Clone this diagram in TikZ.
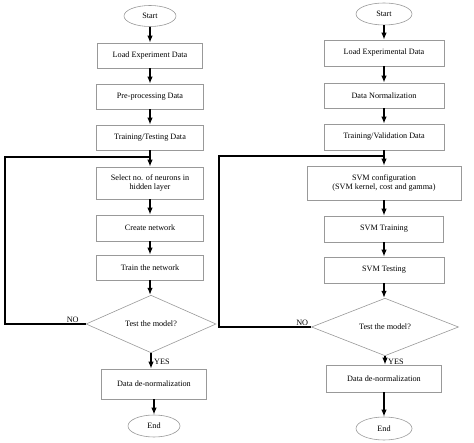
\documentclass[tikz,border=0pt]{standalone}
\usepackage{fontspec}
\setmainfont{Liberation Serif}
\usepackage{tikz}
\usetikzlibrary{arrows.meta, positioning, calc, shapes.geometric}

\begin{document}
\begin{tikzpicture}[
        x=1pt, y=-1pt,
        box/.style={draw=gray!80, line width=0.6pt, minimum width=107pt, minimum height=25pt, align=center, font=\fontsize{8.2}{9.6}\selectfont, inner sep=1pt},
        term/.style={draw=gray!80, line width=0.6pt, ellipse, minimum width=52pt, minimum height=21pt, inner sep=0pt, font=\fontsize{8.2}{9.6}\selectfont},
        decide/.style={draw=gray!80, line width=0.6pt, diamond, minimum width=132pt, minimum height=54pt, inner sep=0pt, font=\fontsize{8.2}{9.6}\selectfont},
        flow/.style={-{Latex[length=7pt,width=5.5pt]}, line width=1.6pt},
        back/.style={line width=1.8pt},
        lbl/.style={font=\fontsize{8.2}{9.6}\selectfont, inner sep=1pt}
    ]
        \useasboundingbox (0,0) rectangle (474,443);
        \node[term] (startA) at (150,16) {Start};
        \node[box, minimum width=105pt] (loadA) at (150,55.5) {Load Experiment Data};
        \node[box] (preA) at (150,96.5) {Pre-processing Data};
        \node[box] (ttA) at (150,137.5) {Training/Testing Data};
        \node[box, minimum height=32pt] (selA) at (150,183) {Select no. of neurons in\\ hidden layer};
        \node[box, minimum height=26pt] (netA) at (150,228) {Create network};
        \node[box] (trainA) at (150,267.5) {Train the network};
        \node[decide, minimum width=130pt] (testA) at (151,324) {Test the model?};
        \node[box, minimum width=105pt, minimum height=30pt] (denA) at (154,384) {Data de-normalization};
        \node[term, minimum height=22pt] (endA) at (154,426) {End};

        \node[term, minimum width=56pt, minimum height=22pt] (startB) at (384,14) {Start};
        \node[box, minimum width=120pt, minimum height=26pt] (loadB) at (384,53) {Load Experimental Data};
        \node[box, minimum width=120pt] (normB) at (384,95.5) {Data Normalization};
        \node[box, minimum width=120pt, minimum height=26pt] (tvB) at (384,137) {Training/Validation Data};
        \node[box, minimum width=154pt, minimum height=34pt] (confB) at (384,183) {SVM configuration\\ (SVM kernel, cost and gamma)};
        \node[box, minimum width=119pt, minimum height=26pt] (trainB) at (384,229) {SVM Training};
        \node[box, minimum width=120pt, minimum height=26pt] (testsB) at (384,270) {SVM Testing};
        \node[decide, minimum width=147pt, minimum height=52pt] (testB) at (385,327) {Test the model?};
        \node[box, minimum width=115pt, minimum height=27pt] (denB) at (384,378.5) {Data de-normalization};
        \node[term, minimum width=56pt, minimum height=23pt] (endB) at (384,428.5) {End};

        \coordinate (joinA) at (150,157);
        \coordinate (cornA) at (5,157);
        \coordinate (joinB) at (384,156);
        \coordinate (cornB) at (219,156);

        \draw[flow] (startA) -- (loadA);
        \draw[flow] (loadA) -- (preA);
        \draw[flow] (preA) -- (ttA);
        \draw[flow] (ttA) -- (selA);
        \draw[flow] (selA) -- (netA);
        \draw[flow] (netA) -- (trainA);
        \draw[flow] (trainA.south) -- (trainA.south |- testA.north);
        \draw[flow] (testA.south) -- (testA.south |- denA.north);
        \draw[flow] (denA) -- (endA);
        \draw[back] (testA.west) -| (cornA) -- (joinA);
        \node[lbl, anchor=south] at ($(testA.west)+(-13,0)$) {NO};
        \node[lbl, anchor=west] at ($(testA.south)+(2,9)$) {YES};

        \draw[flow] (startB) -- (loadB);
        \draw[flow] (loadB) -- (normB);
        \draw[flow] (normB) -- (tvB);
        \draw[flow] (tvB) -- (confB);
        \draw[flow] (confB) -- (trainB);
        \draw[flow] (trainB) -- (testsB);
        \draw[flow] (testsB.south) -- (testsB.south |- testB.north);
        \draw[flow] (testB.south) -- (testB.south |- denB.north);
        \draw[flow] (denB) -- (endB);
        \draw[back] (testB.west) -| (cornB) -- (joinB);
        \node[lbl, anchor=south] at ($(testB.west)+(-9,0)$) {NO};
        \node[lbl, anchor=west] at ($(testB.south)+(2,5.5)$) {YES};
    \end{tikzpicture}
\end{document}
